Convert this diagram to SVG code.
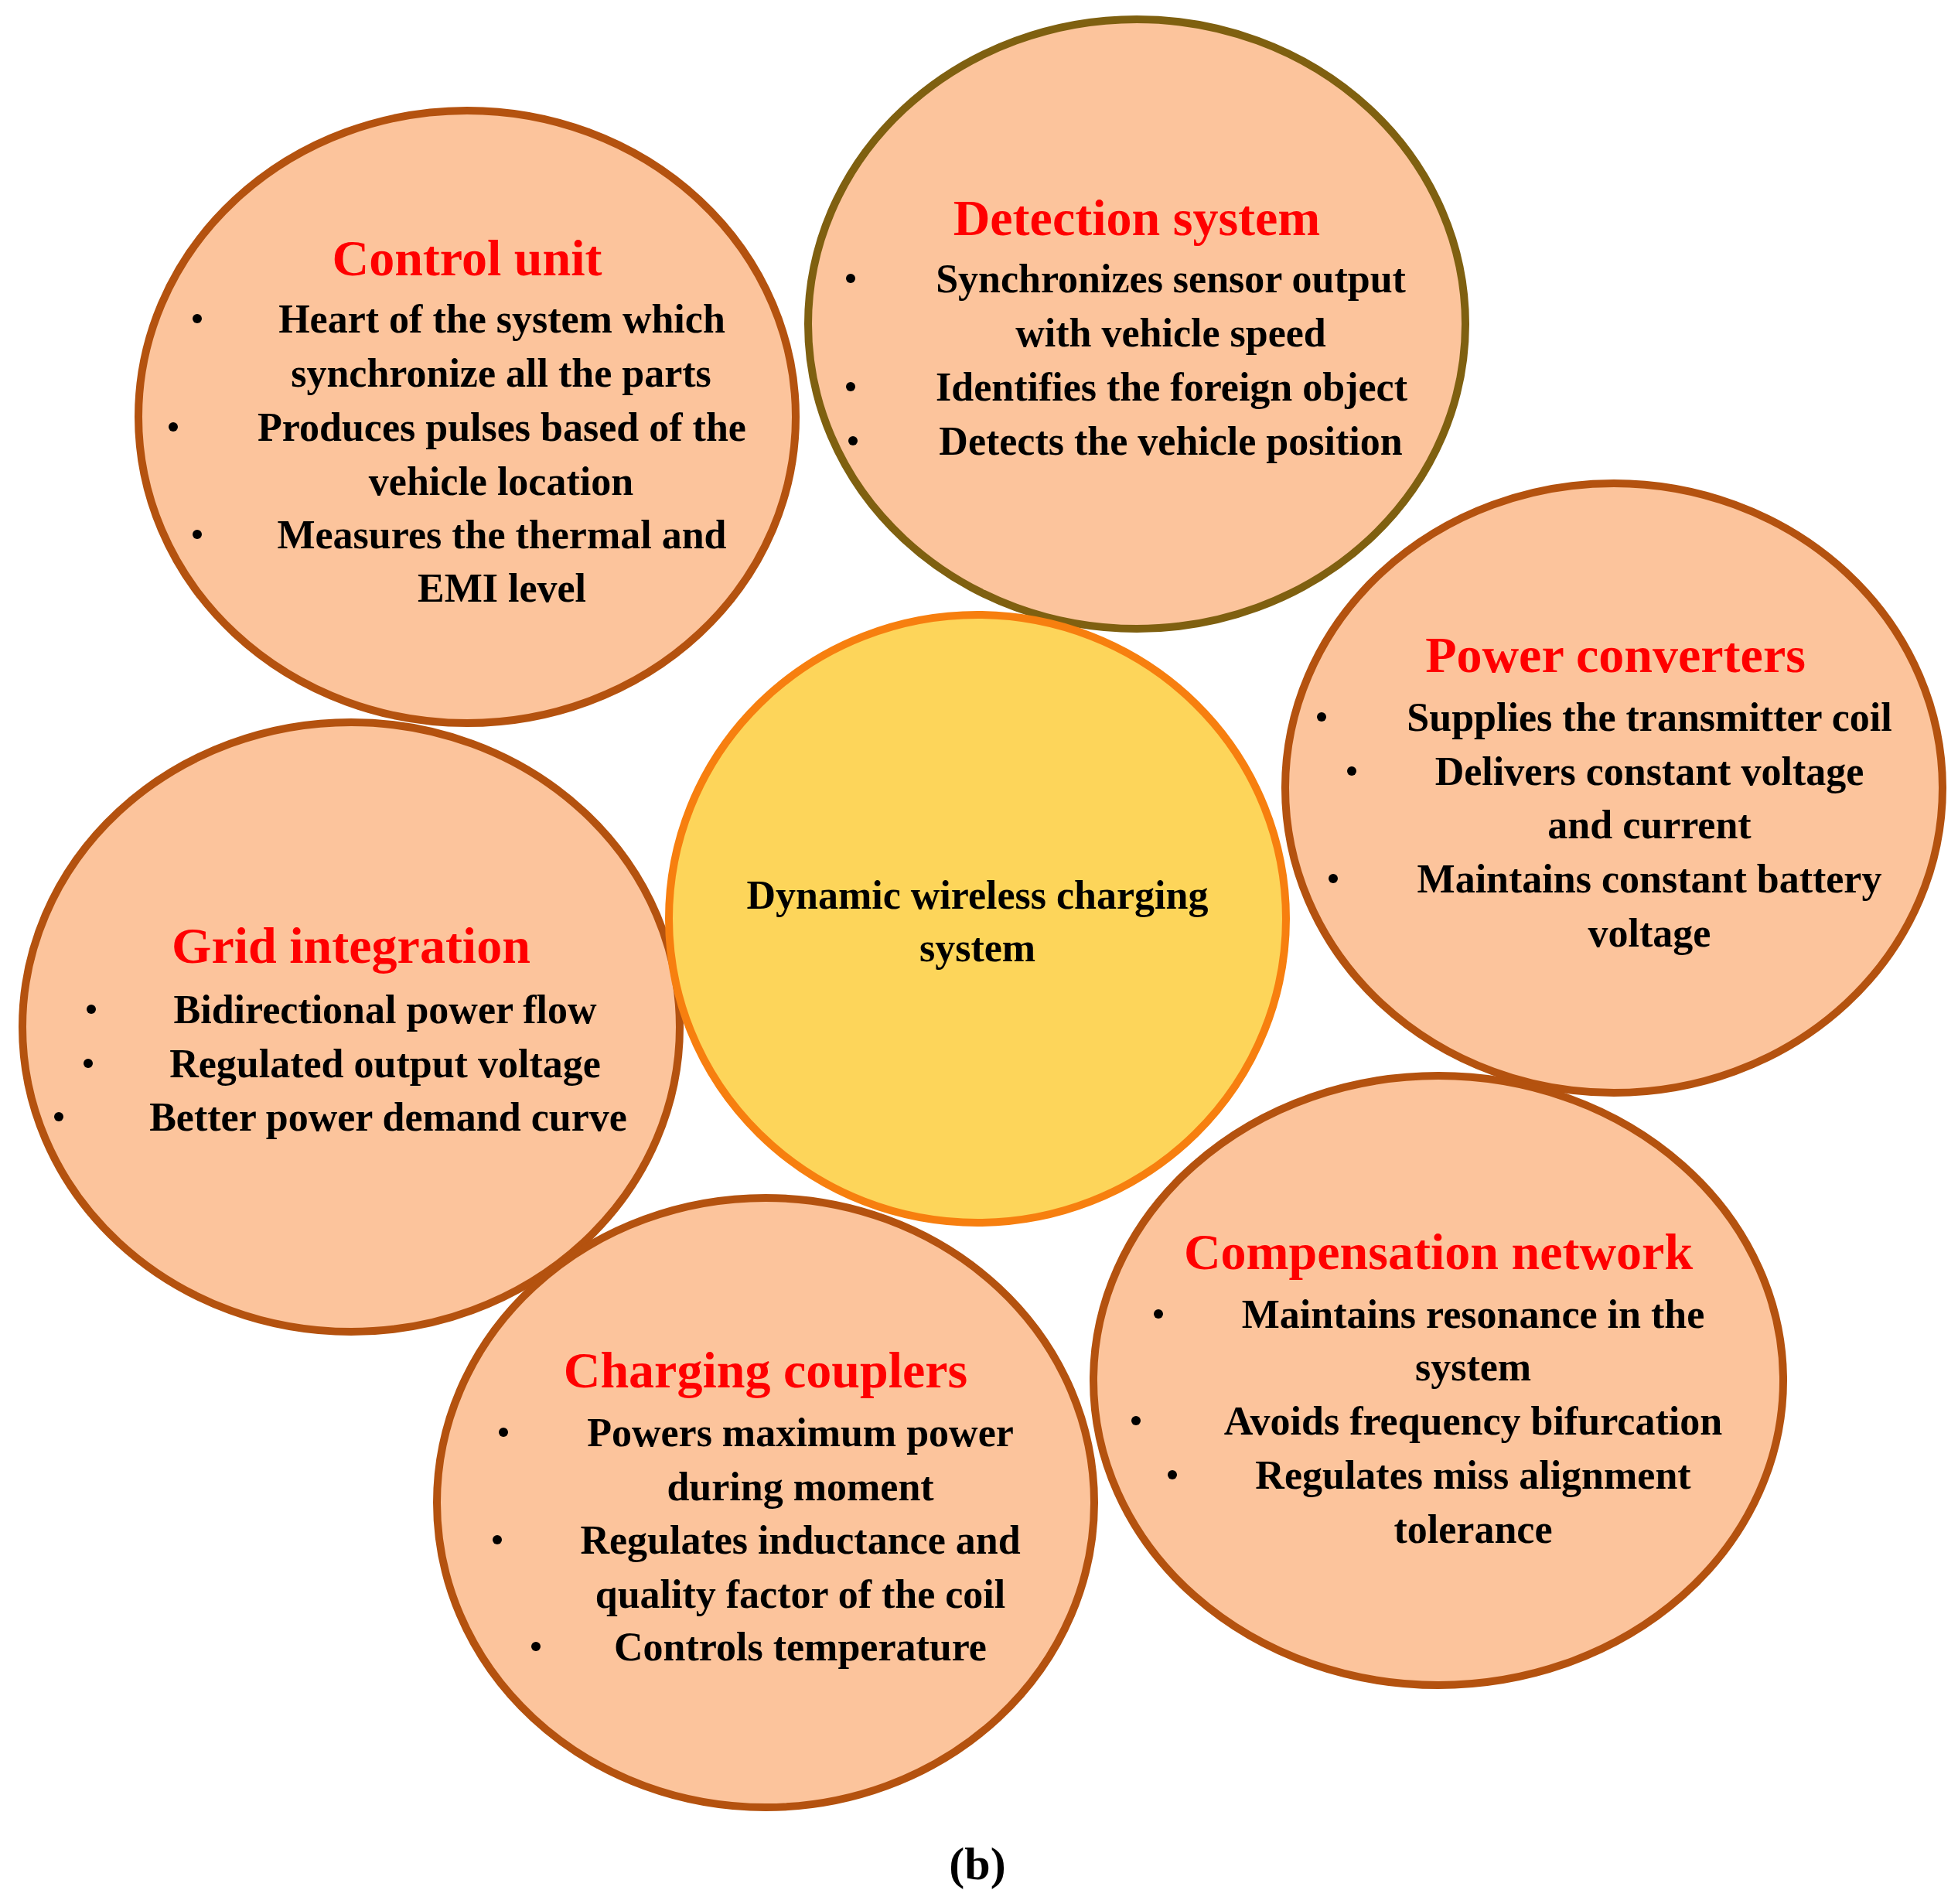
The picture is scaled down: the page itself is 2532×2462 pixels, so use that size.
<svg xmlns="http://www.w3.org/2000/svg" width="2532" height="2462" viewBox="0 0 2532 2462">
<style>
.n{fill:#fcc49c;stroke:#b4520f;stroke-width:10}
.t{font-family:"Liberation Serif",serif;font-weight:bold;font-size:66px;fill:#ff0000;text-anchor:middle;dominant-baseline:central}
.b{font-family:"Liberation Serif",serif;font-weight:bold;font-size:52px;fill:#000;text-anchor:middle;dominant-baseline:central}
.d{fill:#000}
</style>
<rect width="2532" height="2462" fill="#fff"/>
<g id="control">
<ellipse class="n" cx="604" cy="539" rx="425" ry="396"/>
<text class="t" x="604" y="333">Control unit</text>
<circle class="d" cx="255" cy="412" r="6"/><text class="b" x="649" y="412">Heart of the system which</text>
<text class="b" x="648" y="482">synchronize all the parts</text>
<circle class="d" cx="224" cy="552" r="6"/><text class="b" x="649" y="552">Produces pulses based of the</text>
<text class="b" x="648" y="622">vehicle location</text>
<circle class="d" cx="255" cy="691" r="6"/><text class="b" x="649" y="691">Measures the thermal and</text>
<text class="b" x="649" y="760">EMI level</text>
</g>
<g id="detection">
<ellipse class="n" cx="1470" cy="419" rx="425" ry="394" style="stroke:#7f6010"/>
<text class="t" x="1470" y="281">Detection system</text>
<circle class="d" cx="1100" cy="360" r="6"/><text class="b" x="1514" y="360">Synchronizes sensor output</text>
<text class="b" x="1514" y="430">with vehicle speed</text>
<circle class="d" cx="1100" cy="500" r="6"/><text class="b" x="1515" y="500">Identifies the foreign object</text>
<circle class="d" cx="1103" cy="570" r="6"/><text class="b" x="1514" y="570">Detects the vehicle position</text>
</g>
<g id="power">
<ellipse class="n" cx="2087" cy="1019" rx="425" ry="394"/>
<text class="t" x="2089" y="846">Power converters</text>
<circle class="d" cx="1709" cy="927" r="6"/><text class="b" x="2133" y="927">Supplies the transmitter coil</text>
<circle class="d" cx="1748" cy="997" r="6"/><text class="b" x="2133" y="997">Delivers constant voltage</text>
<text class="b" x="2133" y="1066">and current</text>
<circle class="d" cx="1724" cy="1136" r="6"/><text class="b" x="2133" y="1136">Maintains constant battery</text>
<text class="b" x="2133" y="1206">voltage</text>
</g>
<g id="grid">
<ellipse class="n" cx="454" cy="1328" rx="425" ry="394"/>
<text class="t" x="454" y="1222">Grid integration</text>
<circle class="d" cx="118" cy="1305" r="6"/><text class="b" x="498" y="1305">Bidirectional power flow</text>
<circle class="d" cx="114" cy="1375" r="6"/><text class="b" x="498" y="1375">Regulated output voltage</text>
<circle class="d" cx="76" cy="1444" r="6"/><text class="b" x="502" y="1444">Better power demand curve</text>
</g>
<g id="compensation">
<ellipse class="n" cx="1860" cy="1785" rx="446" ry="394"/>
<text class="t" x="1860" y="1618">Compensation network</text>
<circle class="d" cx="1498" cy="1699" r="6"/><text class="b" x="1905" y="1699">Maintains resonance in the</text>
<text class="b" x="1905" y="1767">system</text>
<circle class="d" cx="1469" cy="1837" r="6"/><text class="b" x="1905" y="1837">Avoids frequency bifurcation</text>
<circle class="d" cx="1516" cy="1907" r="6"/><text class="b" x="1905" y="1907">Regulates miss alignment</text>
<text class="b" x="1905" y="1977">tolerance</text>
</g>
<g id="couplers">
<ellipse class="n" cx="990" cy="1943" rx="425" ry="394"/>
<text class="t" x="990" y="1771">Charging couplers</text>
<circle class="d" cx="651" cy="1852" r="6"/><text class="b" x="1035" y="1852">Powers maximum power</text>
<text class="b" x="1035" y="1922">during moment</text>
<circle class="d" cx="643" cy="1991" r="6"/><text class="b" x="1035" y="1991">Regulates inductance and</text>
<text class="b" x="1035" y="2061">quality factor of the coil</text>
<circle class="d" cx="693" cy="2129" r="6"/><text class="b" x="1035" y="2129">Controls temperature</text>
</g>
<g id="center">
<ellipse cx="1264" cy="1188" rx="399" ry="393" fill="#fdd55a" stroke="#f77f0f" stroke-width="10"/>
<text class="b" x="1264" y="1157">Dynamic wireless charging</text>
<text class="b" x="1264" y="1225">system</text>
</g>
<g id="connectors"/>
<text class="b" x="1264" y="2410" style="font-size:60px">(b)</text>
</svg>
